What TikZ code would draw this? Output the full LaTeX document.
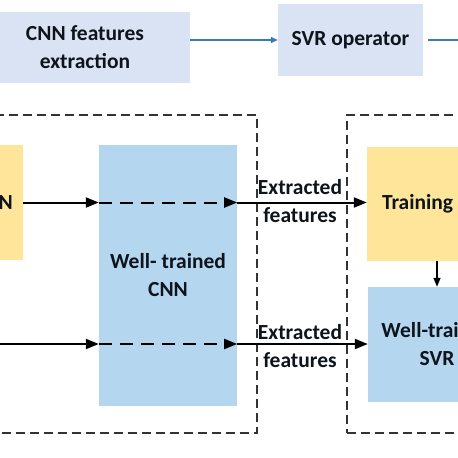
\documentclass[tikz,border=0pt]{standalone}
\usepackage{fontspec}
\setmainfont{Carlito}
\usetikzlibrary{arrows.meta}
\definecolor{topblue}{HTML}{DAE3F3}
\definecolor{midblue}{HTML}{B4D6EF}
\definecolor{ylw}{HTML}{FFE599}
\definecolor{arrblue}{HTML}{3C78B4}
\definecolor{txt}{HTML}{0E141C}
\definecolor{grpline}{HTML}{333333}
\begin{document}
\begin{tikzpicture}[x=1pt,y=-1pt,
  lbl/.style={font=\bfseries\fontsize{21.5}{28}\selectfont, text=txt, align=center, inner sep=0pt},
  grp/.style={draw=grpline, line width=1.5pt, dash pattern=on 9pt off 5pt, fill=none},
  blk/.style={line width=2pt, -{Triangle[length=13pt,width=10pt]}},
  blkd/.style={blk, dash pattern=on 13pt off 8pt},
  barr/.style={draw=arrblue, line width=1.5pt, -{Triangle[length=7pt,width=6pt]}}
]
\useasboundingbox (0,0) rectangle (458,458);
\clip (0,0) rectangle (458,458);
% top row
\node[lbl, fill=topblue, minimum width=210pt, minimum height=71pt] (feat) at (85,47.5) {CNN features\\extraction};
\node[lbl, fill=topblue, minimum width=145pt, minimum height=72pt] (svrop) at (350.5,40) {SVR operator};
\coordinate (out1) at (475,40);
\draw[barr] (feat.east |- svrop.west) -- (svrop.west);
\draw[draw=arrblue, line width=1.5pt] ([xshift=5pt]svrop.east) -- (out1);
% groups
\node[grp, minimum width=297pt, minimum height=318pt, inner sep=0pt] (g1) at (108.5,274) {};
\node[grp, minimum width=160pt, minimum height=318pt, inner sep=0pt] (g2) at (427,274) {};
% boxes
\node[lbl, fill=ylw, minimum width=60pt, minimum height=115pt] (ylwbox) at (-7,202.5) {CNN};
\node[lbl, fill=midblue, minimum width=138pt, minimum height=261pt] (cnn) at (168,275.5) {Well- trained\\CNN};
\node[lbl, fill=ylw, minimum width=140pt, minimum height=114pt, text width=110pt, align=left] (train) at (437,204) {Training};
\node[lbl, fill=midblue, minimum width=138pt, minimum height=115pt] (svr) at (437,344.5) {Well-trained\\SVR};
% arrows
\coordinate (in2) at (-10,344);
\coordinate (c1w) at (cnn.west |- ylwbox.east);
\coordinate (c1e) at (cnn.east |- ylwbox.east);
\coordinate (t1w) at (train.west |- ylwbox.east);
\coordinate (c2w) at (cnn.west |- in2);
\coordinate (c2e) at (cnn.east |- in2);
\coordinate (s2w) at (svr.west |- in2);
\draw[blk] (ylwbox.east) -- (c1w);
\draw[blkd] (c1w) -- (c1e);
\draw[blk] (c1e) -- (t1w);
\draw[blk] (in2) -- (c2w);
\draw[blkd] (c2w) -- (c2e);
\draw[blk] (c2e) -- (s2w);
\draw[line width=1.5pt, -{Triangle[length=9pt,width=7pt]}] (train.south) -- (svr.north);
% labels
\node[lbl] (ef1) at (300,201) {Extracted\\features};
\node[lbl] (ef2) at (300,346) {Extracted\\features};
\end{tikzpicture}
\end{document}
